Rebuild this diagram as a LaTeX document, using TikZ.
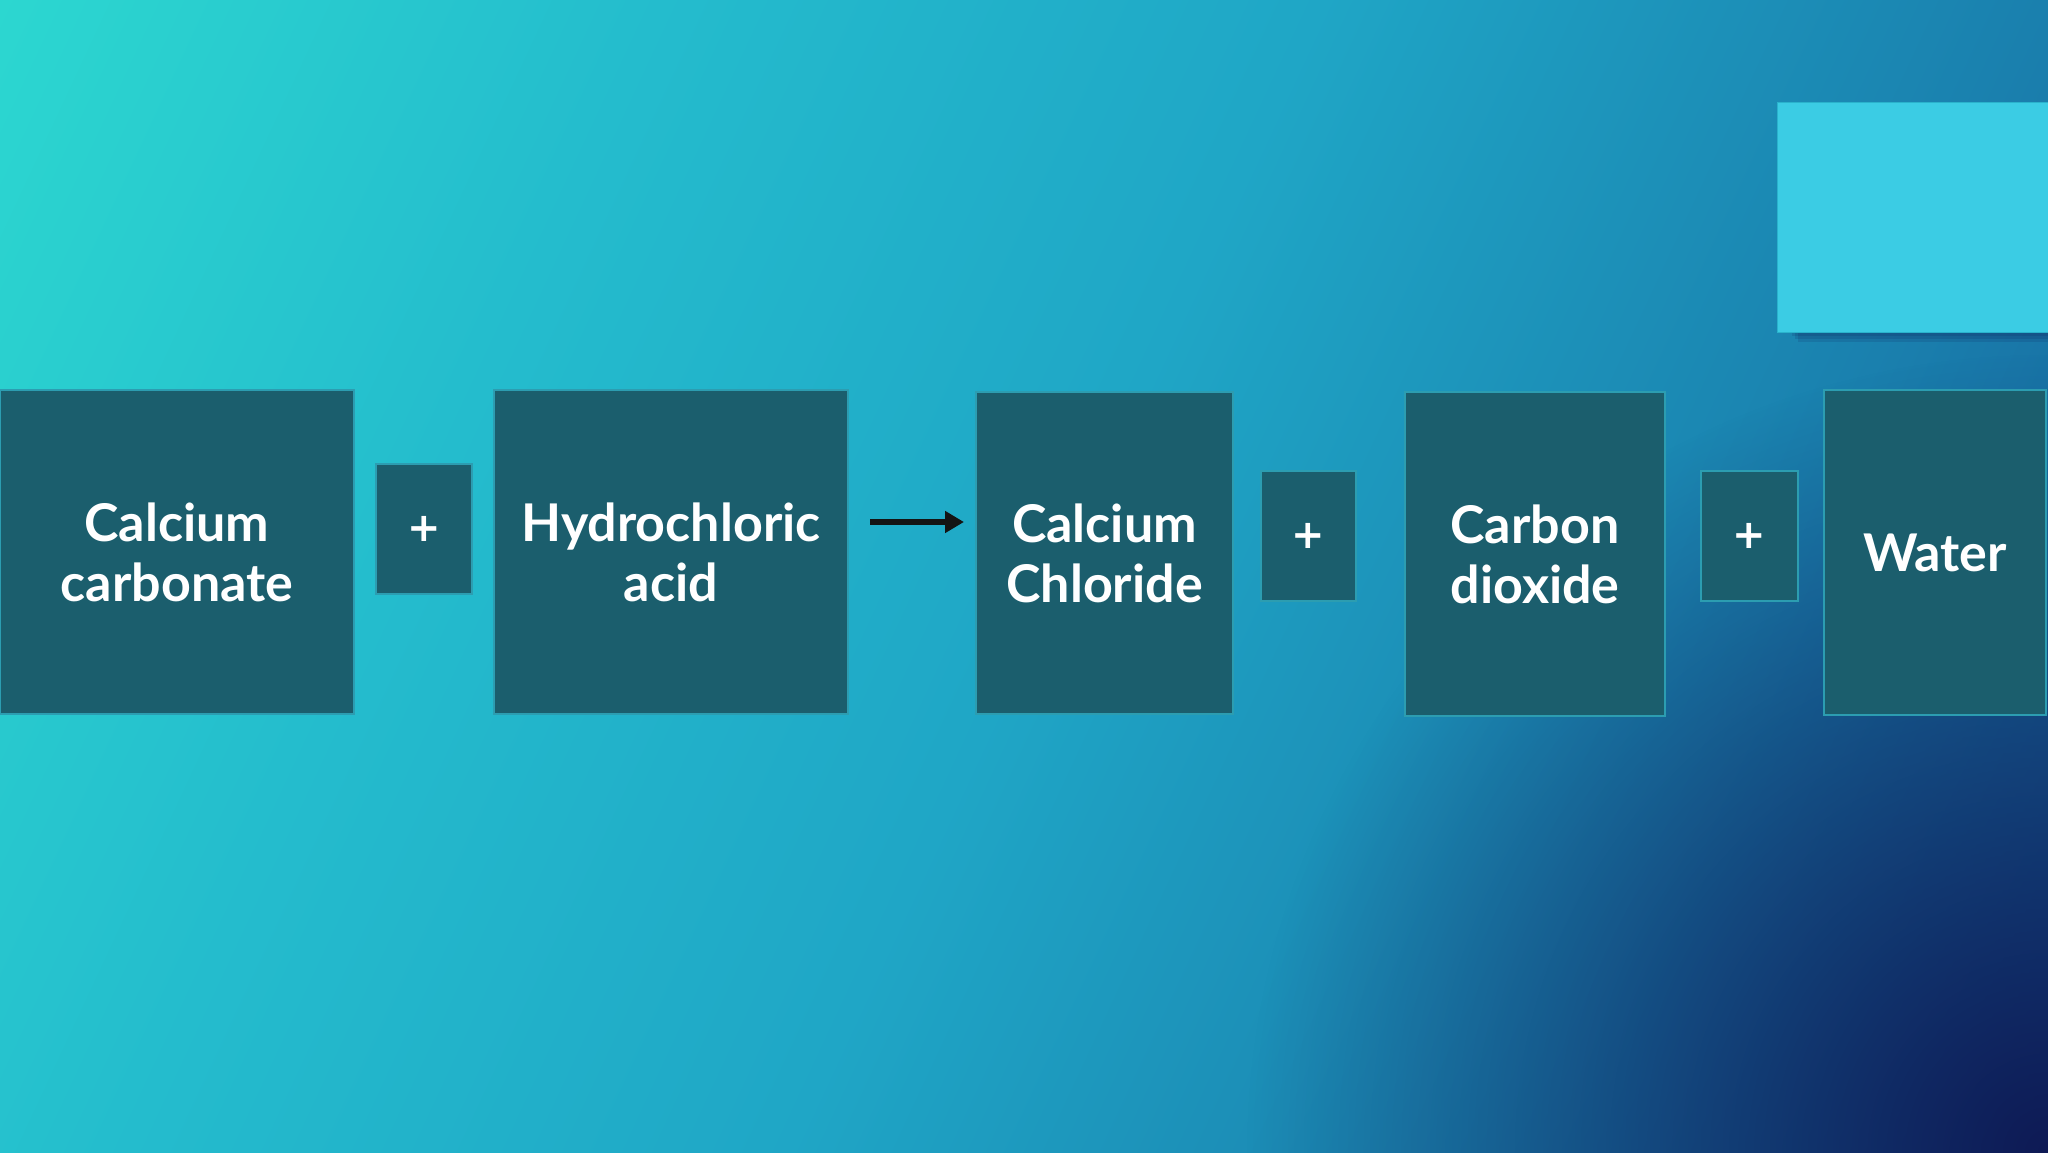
\documentclass[tikz,border=0pt]{standalone}
\usepackage{fontspec}
\setmainfont{Lato}
\newfontfamily\plusfont{DejaVu Sans Bold}
\usetikzlibrary{arrows.meta,fadings}
\definecolor{g0}{HTML}{2CD7D0}
\definecolor{g1}{HTML}{24BCCD}
\definecolor{g2}{HTML}{1FA6C6}
\definecolor{g3}{HTML}{1A80AE}
\definecolor{g4}{HTML}{155E98}
\definecolor{navy}{HTML}{0E1A55}
\definecolor{boxfill}{HTML}{1B5E6D}
\definecolor{boxline}{HTML}{2C9DB1}
\definecolor{lightbox}{HTML}{3BCCE4}
\definecolor{lightline}{HTML}{2AB2CC}
\pgfdeclarehorizontalshading{bgshade}{100bp}{color(0bp)=(g0); color(25bp)=(g0); color(37.8bp)=(g1); color(50.6bp)=(g2); color(64.5bp)=(g3); color(75bp)=(g4); color(100bp)=(g4)}
\tikzfading[name=cornerfade, inner color=transparent!0, outer color=transparent!100]
\begin{document}
\begin{tikzpicture}[x=1pt,y=-1pt,
  box/.style={draw=boxline, line width=1.5pt, fill=boxfill, text=white, align=center,
    inner sep=0pt, outer sep=0pt, font=\fontsize{52}{60}\selectfont\bfseries},
  plusbox/.style={box, font=\plusfont\fontsize{40}{44}\selectfont},
  shadowlayer/.style={fill=navy, opacity=0.14},
  arrowline/.style={-{Triangle[length=19pt,width=21pt]}, line width=6pt, draw=black!92}]
\useasboundingbox (0,0) rectangle (2048,1152);
\begin{scope}
  \clip (0,0) rectangle (2048,1152);
  \shade[shading=bgshade, shading angle=-25] (-147,-595) rectangle (2195,1747);
  \fill[navy, path fading=cornerfade] (2048,1152) circle (800pt);
  % soft shadow under the top-right box
  \foreach \d in {0,3,6,9,12}{
    \fill[shadowlayer] (1786+\d,112) rectangle (2060,330+\d);
  }
\end{scope}
% top-right light box
\node[fill=lightbox, draw=lightline, line width=1pt, inner sep=0pt, outer sep=0pt,
  minimum width=280pt, minimum height=230pt] (topbox) at (1917,217) {};
% boxes
\node[box, minimum width=354pt, minimum height=324pt] (cc) at (177,552) {Calcium\\carbonate};
\node[plusbox, minimum width=96pt, minimum height=130pt] (p1) at (424,529) {+};
\node[box, minimum width=354pt, minimum height=324pt] (hcl) at (671,552) {Hydrochloric\\acid};
\node[box, minimum width=257pt, minimum height=322pt] (cch) at (1104.5,553) {Calcium\\Chloride};
\node[plusbox, minimum width=95pt, minimum height=130pt] (p2) at (1308.5,536) {+};
\node[box, minimum width=260pt, minimum height=324pt] (co2) at (1535,554) {Carbon\\dioxide};
\node[plusbox, minimum width=97pt, minimum height=130pt] (p3) at (1749.5,536) {+};
\node[box, minimum width=222pt, minimum height=325pt] (water) at (1935,552.5) {Water};
% arrow
\coordinate (a1) at (870,522);
\coordinate (a2) at (964,522);
\draw[arrowline] (a1) -- (a2);
\end{tikzpicture}
\end{document}
